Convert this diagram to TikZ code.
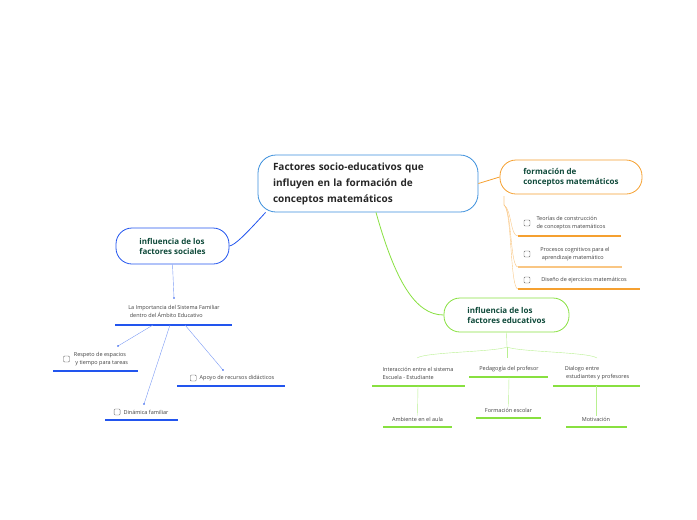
\documentclass[tikz,border=0pt]{standalone}
\usepackage{fontspec}
\setmainfont{Open Sans}
\usetikzlibrary{positioning}
\definecolor{mainblue}{HTML}{3C8FDC}
\definecolor{socblue}{HTML}{2255EE}
\definecolor{orng}{HTML}{F5A030}
\definecolor{grn}{HTML}{88E040}
\definecolor{lgrn}{HTML}{B8F090}
\definecolor{dgreen}{HTML}{0F4A3A}
\tikzset{
  topic/.style={draw, rounded corners=16pt, line width=0.8pt, align=left, font=\bfseries\fontsize{8}{10}\selectfont, text=dgreen, inner xsep=20pt},
  leaf/.style={align=left, font=\fontsize{5.5}{8}\selectfont, text=black!75, inner sep=1pt},
  chk/.style={draw=black!60, rounded corners=1pt, minimum size=6pt, inner sep=0pt},
  uline/.style={line width=1.2pt}
}
\begin{document}
\begin{tikzpicture}[x=1pt,y=1pt,yscale=-1]
\useasboundingbox (0,0) rectangle (697,520);
%central
\node[draw=mainblue, rounded corners=18pt, line width=0.8pt, minimum width=220pt, minimum height=57pt, align=left, text width=190pt, font=\bfseries\fontsize{10}{16}\selectfont, text=black!85] (main) at (368,183.5) {Factores socio-educativos que\\influyen en la formación de\\conceptos matemáticos};
%topics
\node[topic, draw=orng, minimum width=142pt, minimum height=34pt] (form) at (571,177) {formación de\\conceptos matemáticos};
\node[topic, draw=socblue, minimum width=113pt, minimum height=36pt] (soc) at (172.5,246) {influencia de los\\factores sociales};
\node[topic, draw=grn, minimum width=125pt, minimum height=34pt] (edu) at (506.5,315) {influencia de los\\factores educativos};
\draw[orng, line width=0.8pt] (main.east) -- (form.west);
\draw[socblue, line width=0.8pt] (main.south west) ++(8,0) .. controls (245,235) and (235,245) .. (soc.east);
\draw[grn, line width=0.8pt] (main.south) ++(8,0) .. controls (395,280) and (415,315) .. (edu.west);
%social branch
\node[leaf] (fam) at (174,311.5) {La Importancia del Sistema Familiar\\\ dentro del Ámbito Educativo};
\draw[socblue, uline] (115,325) -- (232,325);
\draw[socblue!60] (soc.south) -- (174,298);
\fill[socblue] (174,298) circle (0.8);
\node[leaf] (resp) at (101,359) {Respeto de espacios\\\ y tiempo para tareas};
\node[chk, left=3pt of resp.west] (c1) {};
\draw[socblue, uline] (53,371) -- (138,371);
\node[leaf] (apoyo) at (237,378) {Apoyo de recursos didácticos};
\node[chk, left=2pt of apoyo] (c2) {};
\draw[socblue, uline] (177,386) -- (285,386);
\node[leaf] (din) at (146,412) {Dinámica familiar};
\node[chk, left=2pt of din] (c3) {};
\draw[socblue, uline] (105,420) -- (178,420);
\foreach \a/\b in {153/118,170/144,185/223}{
  \coordinate (s) at (\a,325);
}
\coordinate (f1) at (153,325); \coordinate (f2) at (170,325); \coordinate (f3) at (185,325);
\coordinate (e1) at (118,346); \coordinate (e2) at (144,404); \coordinate (e3) at (223,370);
\foreach \i in {1,2,3}{
  \draw[socblue!60] (f\i) -- (e\i);
  \fill[socblue] (e\i) circle (0.8);
}
%formacion branch
\node[leaf] (teo) at (571,223) {Teorías de construcción\\de conceptos matemáticos};
\node[leaf] (proc) at (575,254) {Procesos cognitivos para el\\\ aprendizaje matemático};
\node[leaf] (dis) at (584,280) {Diseño de ejercicios matemáticos};
\node[chk] (c4) at (527,223) {};
\node[chk] (c5) at (527,254) {};
\node[chk] (c6) at (527,280) {};
\draw[orng, uline] (518,236) -- (621,236);
\draw[orng!60, uline] (518,267) -- (622,267);
\draw[orng, uline] (518,289) -- (640,289);
\foreach \y in {236,267,289}{
  \draw[orng!60] (504,196) -- (504,205) .. controls (512,210) and (510,\y) .. (518,\y);
}
%educativos branch
\node[leaf] (inter) at (418,373.5) {Interacción entre el sistema\\Escuela - Estudiante};
\node[leaf] (ped) at (509,369) {Pedagogía del profesor};
\node[leaf] (dia) at (597,373.5) {Dialogo entre\\\ estudiantes y profesores};
\draw[grn, uline] (372,386) -- (465,386);
\draw[grn, uline] (469,377) -- (548,377);
\draw[grn, uline] (553,386) -- (640,386);
\draw[lgrn] (edu.south) -- (507,347) .. controls (495,352) and (425,352) .. (417,358);
\draw[lgrn] (507,347) .. controls (519,352) and (589,352) .. (597,358);
\draw[lgrn] (507,347) -- (507,358);
\node[leaf] (amb) at (417.5,419) {Ambiente en el aula};
\node[leaf] (fesc) at (508.5,410) {Formación escolar};
\node[leaf] (mot) at (596,419) {Motivación};
\draw[grn, uline] (383,427) -- (452,427);
\draw[grn, uline] (476,418) -- (541,418);
\draw[grn, uline] (566,427) -- (627,427);
\draw[lgrn] (418,386) -- (amb.north);
\draw[lgrn] (509,377) -- (fesc.north);
\draw[lgrn] (596,386) -- (mot.north);
\end{tikzpicture}
\end{document}
